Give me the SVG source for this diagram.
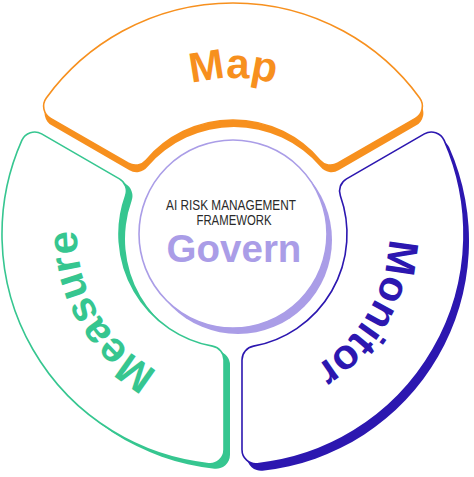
<svg xmlns="http://www.w3.org/2000/svg" width="474" height="477" viewBox="0 0 474 477">
<style>
  .label{font-family:"Liberation Sans",Arial,sans-serif;font-weight:bold;font-size:42px;}
  .outline{fill:#ffffff;stroke-width:1.6;}
  .orange{fill:#f7901e;}
  .green{fill:#36c690;}
  .navy{fill:#2c17b0;}
  .lav{fill:#aa9de7;}
  .small{font-family:"Liberation Sans",Arial,sans-serif;font-size:14.5px;fill:#2a2a2a;}
  .gov{font-family:"Liberation Sans",Arial,sans-serif;font-weight:bold;font-size:38.5px;fill:#aa9de7;}
</style>
<defs>
  <path id="seg" d="M46.31 97.94 A231 231 0 0 1 419.69 97.94 A14 14 0 0 1 415.37 118.32 L337.55 163.25 A14 14 0 0 1 319.88 160.19 A114 114 0 0 0 146.12 160.19 A14 14 0 0 1 128.45 163.25 L50.63 118.32 A14 14 0 0 1 46.31 97.94 Z"/>
  <path id="arc" d="M77 234 A156 156 0 0 1 389 234"/>
</defs>
<rect width="474" height="477" fill="#ffffff"/>

<g id="map">
  <use href="#seg" class="orange" transform="translate(1,7)"/>
  <use href="#seg" class="outline" stroke="#f7901e"/>
  <text class="label orange"><textPath href="#arc" startOffset="50%" text-anchor="middle">Map</textPath></text>
</g>

<g id="monitor">
  <use href="#seg" class="navy" transform="translate(5,7) rotate(120 233 234)"/>
  <use href="#seg" class="outline" stroke="#2c17b0" transform="rotate(120 233 234)"/>
  <text class="label navy" transform="rotate(120 233 234)"><textPath href="#arc" startOffset="50%" text-anchor="middle">Monitor</textPath></text>
</g>

<g id="measure">
  <use href="#seg" class="green" transform="translate(6,5) rotate(240 233 234)"/>
  <use href="#seg" class="outline" stroke="#36c690" transform="rotate(240 233 234)"/>
  <text class="label green" transform="rotate(240 233 234)"><textPath href="#arc" startOffset="50%" text-anchor="middle">Measure</textPath></text>
</g>

<g id="govern">
  <circle cx="238" cy="240" r="94" class="lav"/>
  <circle cx="233" cy="234" r="94" fill="#ffffff" stroke="#aa9de7" stroke-width="1.6"/>
  <text class="small" x="231" y="210" text-anchor="middle" textLength="130" lengthAdjust="spacingAndGlyphs">AI RISK MANAGEMENT</text>
  <text class="small" x="234" y="225" text-anchor="middle" textLength="75" lengthAdjust="spacingAndGlyphs">FRAMEWORK</text>
  <text class="gov" x="234" y="262" text-anchor="middle">Govern</text>
</g>
</svg>
